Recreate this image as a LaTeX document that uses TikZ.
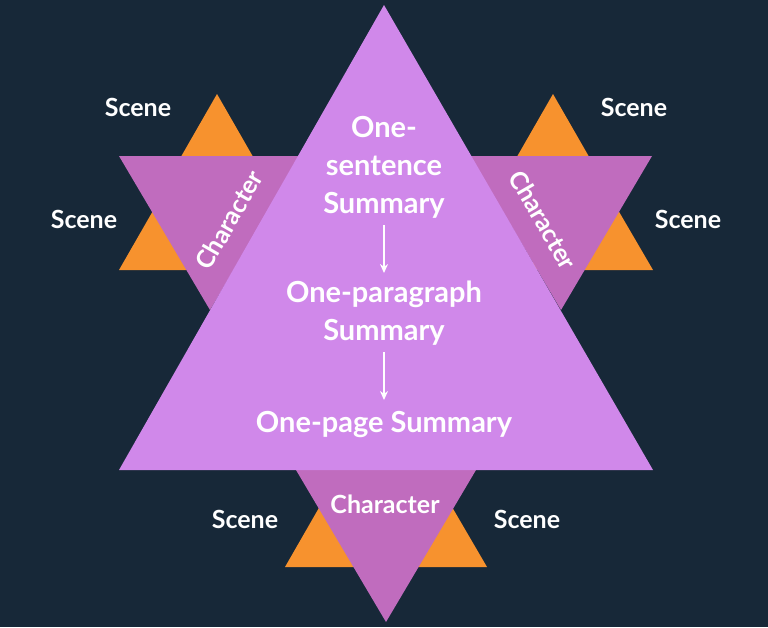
\documentclass[tikz,border=0pt]{standalone}
\usepackage{fontspec}
\setmainfont{Lato}
\usetikzlibrary{arrows.meta}
\begin{document}
\begin{tikzpicture}[x=1pt,y=-1pt,
  bgc/.style={fill={rgb,255:red,23;green,40;blue,56}},
  org/.style={fill={rgb,255:red,247;green,146;blue,46}},
  inv/.style={fill={rgb,255:red,192;green,108;blue,190}},
  mainc/.style={fill={rgb,255:red,208;green,136;blue,234}},
  lbl/.style={text=white,font=\fontsize{25}{29}\selectfont\bfseries,inner sep=1pt},
  big/.style={text=white,font=\fontsize{29}{38}\selectfont\bfseries,align=center,inner sep=1pt},
  arr/.style={white,line width=1.5pt,-{Stealth[length=9pt,width=8pt]}}]
\path[bgc] (0,0) rectangle (768,627);
% orange triangles
\path[org] (217,94) -- (279,202) -- (155,202) -- cycle;
\path[org] (181,162) -- (244,270) -- (119,270) -- cycle;
\path[org] (553,94) -- (615,202) -- (491,202) -- cycle;
\path[org] (590,162) -- (653,270) -- (528,270) -- cycle;
\path[org] (347,459) -- (410,567) -- (285,567) -- cycle;
\path[org] (424,459) -- (487,567) -- (362,567) -- cycle;
% inverted purple
\path[inv] (119,156) -- (301,156) -- (210,310) -- cycle;
\path[inv] (470,156) -- (652,156) -- (561,310) -- cycle;
\path[inv] (296,470) -- (476,470) -- (386,622) -- cycle;
% main
\path[mainc] (384,5) -- (653,470) -- (119,470) -- cycle;
% labels
\node[lbl] (s1) at (138,107) {Scene};
\node[lbl] (s2) at (84,219) {Scene};
\node[lbl] (s3) at (634,107) {Scene};
\node[lbl] (s4) at (688,219) {Scene};
\node[lbl] (s5) at (245,519) {Scene};
\node[lbl] (s6) at (527,519) {Scene};
\node[lbl,rotate=60] (c1) at (229,220) {Character};
\node[lbl,rotate=-60] (c2) at (543,220) {Character};
\node[lbl] (c3) at (385,504) {Character};
\node[big] (t1) at (384,167) {One-\\sentence\\Summary};
\node[big] (t2) at (384,313) {One-paragraph\\Summary};
\node[big] (t3) at (384,425) {One-page Summary};
\coordinate (a1) at (384,225);
\coordinate (a2) at (384,273);
\coordinate (b1) at (384,352);
\coordinate (b2) at (384,400);
\draw[arr] (a1) -- (a2);
\draw[arr] (b1) -- (b2);
\end{tikzpicture}
\end{document}
